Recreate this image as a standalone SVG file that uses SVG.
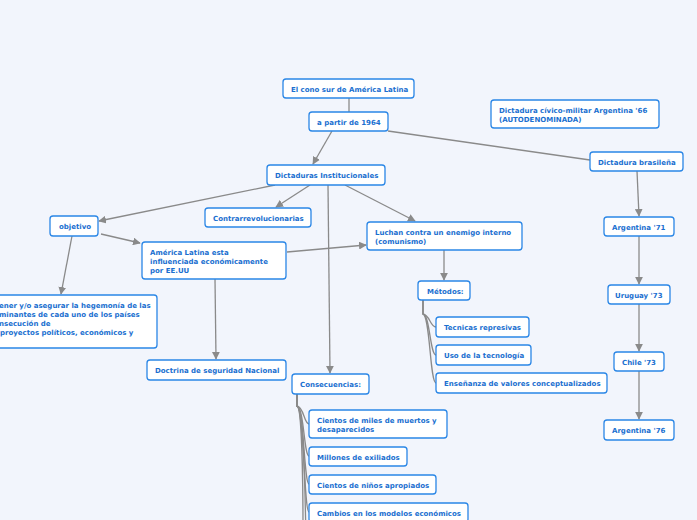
<svg xmlns="http://www.w3.org/2000/svg" width="697" height="520" viewBox="0 0 697 520">
<style>
.n rect{fill:#fff;stroke:#2a86e6;stroke-width:1.3}
.n text{font-family:"DejaVu Sans",sans-serif;font-weight:bold;font-size:7px;fill:#1a6fd0}
.c path{fill:none;stroke:#8a8a8a;stroke-width:1.3}
.a{marker-end:url(#ar)}
</style>
<defs><marker id="ar" viewBox="0 0 10 10" refX="9" refY="5" markerWidth="6" markerHeight="6" orient="auto"><path d="M0,0L10,5L0,10z" fill="#8a8a8a"/></marker></defs>
<rect width="697" height="520" fill="#f2f5fc"/>
<g class="c">
<path d="M349,98V112"/>
<path class="a" d="M332,131L313,164"/>
<path d="M388,131L590,160"/>
<path class="a" d="M637,171L639,216"/>
<path class="a" d="M639,236V284"/>
<path class="a" d="M639,304V351"/>
<path class="a" d="M639,371V419"/>
<path class="a" d="M275,185L99,221"/>
<path class="a" d="M310,185L276,207"/>
<path class="a" d="M345,185L415,221"/>
<path class="a" d="M328,185L330,373"/>
<path class="a" d="M101,234L140,243"/>
<path class="a" d="M72,236L61,294"/>
<path class="a" d="M287,252L366,245"/>
<path class="a" d="M215,279L216,359"/>
<path class="a" d="M444,250V280"/>
<path d="M423,300V314C430,315 430,327 436,327"/>
<path d="M423,300V314C430,315 430,355 436,355"/>
<path d="M423,300V314C430,315 430,383 436,383"/>
<path d="M297,394V406C304,407 304,424 309,424"/>
<path d="M297,394V406C304,407 304,456 309,456"/>
<path d="M297,394V406C304,407 304,484 309,484"/>
<path d="M297,394V406C304,407 304,512 309,512"/>
<path d="M297,394V406C305,408 305,520 306,530"/>
<path d="M297,394V406C303,408 303,520 303,530"/>
</g>
<g id="n1" class="n"><rect x="283" y="79" width="131" height="19" rx="3"/><text x="291" y="91.5">El cono sur de América Latina</text></g>
<g id="n2" class="n"><rect x="309" y="112" width="79" height="19" rx="3"/><text x="317" y="124.5">a partir de 1964</text></g>
<g id="n3" class="n"><rect x="491" y="100" width="168" height="28" rx="3"/><text x="499" y="113">Dictadura cívico-militar Argentina '66</text><text x="499" y="122">(AUTODENOMINADA)</text></g>
<g id="n4" class="n"><rect x="590" y="152" width="93" height="19" rx="3"/><text x="598" y="164.5">Dictadura brasileña</text></g>
<g id="n5" class="n"><rect x="267" y="165" width="118" height="20" rx="3"/><text x="275" y="177.5">Dictaduras Institucionales</text></g>
<g id="n6" class="n"><rect x="50" y="216" width="48" height="20" rx="3"/><text x="59" y="228.5">objetivo</text></g>
<g id="n7" class="n"><rect x="205" y="208" width="106" height="19" rx="3"/><text x="213" y="220.5">Contrarrevolucionarias</text></g>
<g id="n8" class="n"><rect x="142" y="242" width="144" height="37" rx="3"/><text x="150" y="255">América Latina esta</text><text x="150" y="264">influenciada económicamente</text><text x="150" y="273">por EE.UU</text></g>
<g id="n9" class="n"><rect x="367" y="222" width="155" height="28" rx="3"/><text x="375" y="235">Luchan contra un enemigo interno</text><text x="375" y="244">(comunismo)</text></g>
<g id="n10" class="n"><rect x="604" y="217" width="70" height="19" rx="3"/><text x="612" y="229.5">Argentina '71</text></g>
<g id="n11" class="n"><rect x="-60" y="295" width="217" height="53" rx="3"/><text x="-1" y="308">ener y/o asegurar la hegemonía de las</text><text x="-1" y="317">minantes de cada uno de los países</text><text x="-1" y="326">nsecución de</text><text x="0" y="335"> proyectos políticos, económicos y</text></g>
<g id="n12" class="n"><rect x="418" y="281" width="52" height="19" rx="3"/><text x="427" y="293.5">Métodos:</text></g>
<g id="n13" class="n"><rect x="608" y="285" width="62" height="19" rx="3"/><text x="615" y="297.5">Uruguay '73</text></g>
<g id="n14" class="n"><rect x="436" y="317" width="93" height="20" rx="3"/><text x="444" y="329.5">Tecnicas represivas</text></g>
<g id="n15" class="n"><rect x="436" y="345" width="95" height="20" rx="3"/><text x="444" y="357.5">Uso de la tecnología</text></g>
<g id="n16" class="n"><rect x="436" y="373" width="171" height="20" rx="3"/><text x="444" y="385.5">Enseñanza de valores conceptualizados</text></g>
<g id="n17" class="n"><rect x="614" y="352" width="50" height="19" rx="3"/><text x="622" y="364.5">Chile '73</text></g>
<g id="n18" class="n"><rect x="147" y="360" width="139" height="20" rx="3"/><text x="155" y="372.5">Doctrina de seguridad Nacional</text></g>
<g id="n19" class="n"><rect x="292" y="374" width="77" height="20" rx="3"/><text x="300" y="386.5">Consecuencias:</text></g>
<g id="n20" class="n"><rect x="604" y="420" width="70" height="20" rx="3"/><text x="612" y="432.5">Argentina '76</text></g>
<g id="n21" class="n"><rect x="309" y="410" width="138" height="28" rx="3"/><text x="317" y="423">Cientos de miles de muertos y</text><text x="317" y="432">desaparecidos</text></g>
<g id="n22" class="n"><rect x="309" y="447" width="98" height="19" rx="3"/><text x="317" y="459.5">Millones de exiliados</text></g>
<g id="n23" class="n"><rect x="309" y="475" width="127" height="19" rx="3"/><text x="317" y="487.5">Cientos de niños apropiados</text></g>
<g id="n24" class="n"><rect x="309" y="503" width="159" height="19" rx="3"/><text x="317" y="515.5">Cambios en los modelos económicos</text></g>
</svg>
